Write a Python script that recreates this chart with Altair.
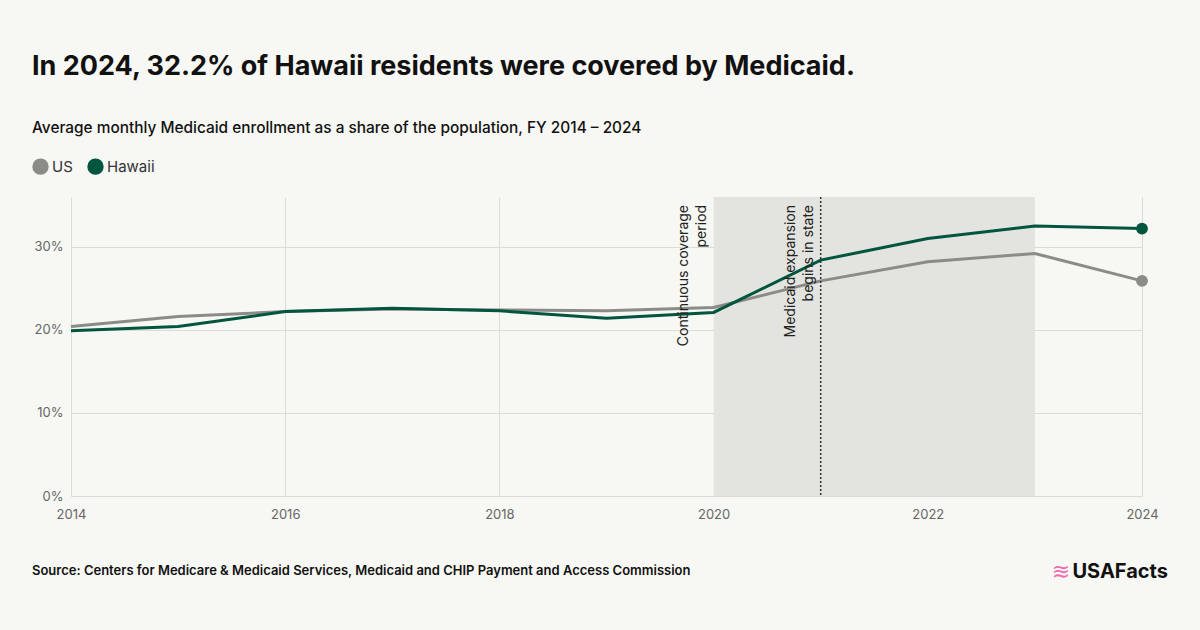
import altair as alt
import pandas as pd

years = list(range(2014, 2025))
us = [20.4, 21.6, 22.2, 22.5, 22.4, 22.3, 22.7, 25.9, 28.2, 29.2, 25.9]
hawaii = [19.9, 20.4, 22.2, 22.6, 22.3, 21.4, 22.1, 28.4, 31.0, 32.5, 32.2]
series = ["US", "Hawaii"]
colors = ["#8b8b87", "#00553f"]
x_ticks = [2014, 2016, 2018, 2020, 2022, 2024]
y_ticks = [0, 10, 20, 30]

band_start, band_end = [2020], [2023]
expansion_year = [2021]
notes = ["Continuous coverage\nperiod", "Medicaid expansion\nbegins in state"]
note_years = [2020, 2021]

FONT = "Inter"
BG = "#f7f7f3"

df = pd.DataFrame(
    {"year": years * 2, "value": us + hawaii, "series": ["US"] * len(years) + ["Hawaii"] * len(years)}
)
last = df[df["year"] == years[-1]]

x = alt.X("year:Q", scale=alt.Scale(domain=[2014, 2024], nice=False, zero=False),
          axis=alt.Axis(values=x_ticks, format="d", title=None, grid=True, ticks=False, domain=False,
                        labelFlush=False, labelPadding=12, labelFontSize=13, labelColor="#666",
                        labelFont=FONT, gridColor="#dcdcd7"))
y = alt.Y("value:Q", scale=alt.Scale(domain=[0, 36], nice=False),
          axis=alt.Axis(values=y_ticks, labelExpr="datum.value + '%'", title=None, grid=True, ticks=False,
                        domain=False, labelPadding=8, labelFontSize=13, labelColor="#666", labelFont=FONT,
                        gridColor="#dcdcd7"))

band = alt.Chart(pd.DataFrame({"start": band_start, "end": band_end})).mark_rect(color="#e3e3df").encode(
    x=alt.X("start:Q"), x2="end:Q", y=alt.value(0), y2=alt.value(299)
)

rule = alt.Chart(pd.DataFrame({"year": expansion_year})).mark_rule(
    color="#333", strokeDash=[2, 2], strokeWidth=1.5
).encode(x="year:Q", y=alt.value(0), y2=alt.value(299))

note_text = alt.Chart(pd.DataFrame({"year": note_years, "label": notes})).mark_text(
    angle=270, align="right", baseline="top", dy=-37, fontSize=14, font=FONT, color="#222",
    lineBreak="\n", lineHeight=18
).encode(x="year:Q", y=alt.value(8), text="label:N")

color_scale = alt.Scale(domain=series, range=colors)

lines = alt.Chart(df).mark_line(strokeWidth=3).encode(
    x=x, y=y,
    color=alt.Color("series:N", scale=color_scale,
                    legend=alt.Legend(title=None, orient="none", legendX=-39, legendY=-39,
                                      direction="horizontal", symbolType="circle", symbolSize=70,
                                      symbolStrokeWidth=8, labelFontSize=15, labelFont=FONT,
                                      labelColor="#333", labelOffset=3, columnPadding=2)),
    detail="series:N"
)

dots = alt.Chart(last).mark_point(size=140, filled=True, opacity=1).encode(
    x="year:Q", y="value:Q", color=alt.Color("series:N", scale=color_scale)
)

title = alt.Chart(pd.DataFrame({"t": ["In 2024, 32.2% of Hawaii residents were covered by Medicaid."]})).mark_text(
    align="left", baseline="middle", fontSize=27, fontWeight="bold", font=FONT, color="#111"
).encode(x=alt.value(-39), y=alt.value(-130), text="t:N")

subtitle = alt.Chart(pd.DataFrame({"t": ["Average monthly Medicaid enrollment as a share of the population, FY 2014 – 2024"]})).mark_text(
    align="left", baseline="middle", fontSize=15.4, fontWeight=500, font=FONT, color="#111"
).encode(x=alt.value(-39), y=alt.value(-69), text="t:N")

source = alt.Chart(pd.DataFrame({"t": ["Source: Centers for Medicare & Medicaid Services, Medicaid and CHIP Payment and Access Commission"]})).mark_text(
    align="left", baseline="middle", fontSize=13, fontWeight=600, font=FONT, color="#111"
).encode(x=alt.value(-39), y=alt.value(374), text="t:N")

logo = alt.Chart(pd.DataFrame({"t": ["USAFacts"]})).mark_text(
    align="right", baseline="middle", fontSize=20, fontWeight="bold", font=FONT, color="#111"
).encode(x=alt.value(1097), y=alt.value(375), text="t:N")

logo_icon = alt.Chart(pd.DataFrame({"t": ["≋"]})).mark_text(
    align="center", baseline="middle", fontSize=22, font="DejaVu Sans", color="#f06bb4"
).encode(x=alt.value(990), y=alt.value(375), text="t:N")

chart = alt.layer(band, lines, rule, note_text, dots, title, subtitle, source, logo, logo_icon).properties(
    width=1071, height=299, background=BG,
    padding={"left": 71, "top": 197, "right": 58, "bottom": 134},
    autosize=alt.AutoSizeParams(type="none")
).configure_view(stroke=None)

chart.save("out.html", embed_options={"renderer": "svg", "actions": False})
